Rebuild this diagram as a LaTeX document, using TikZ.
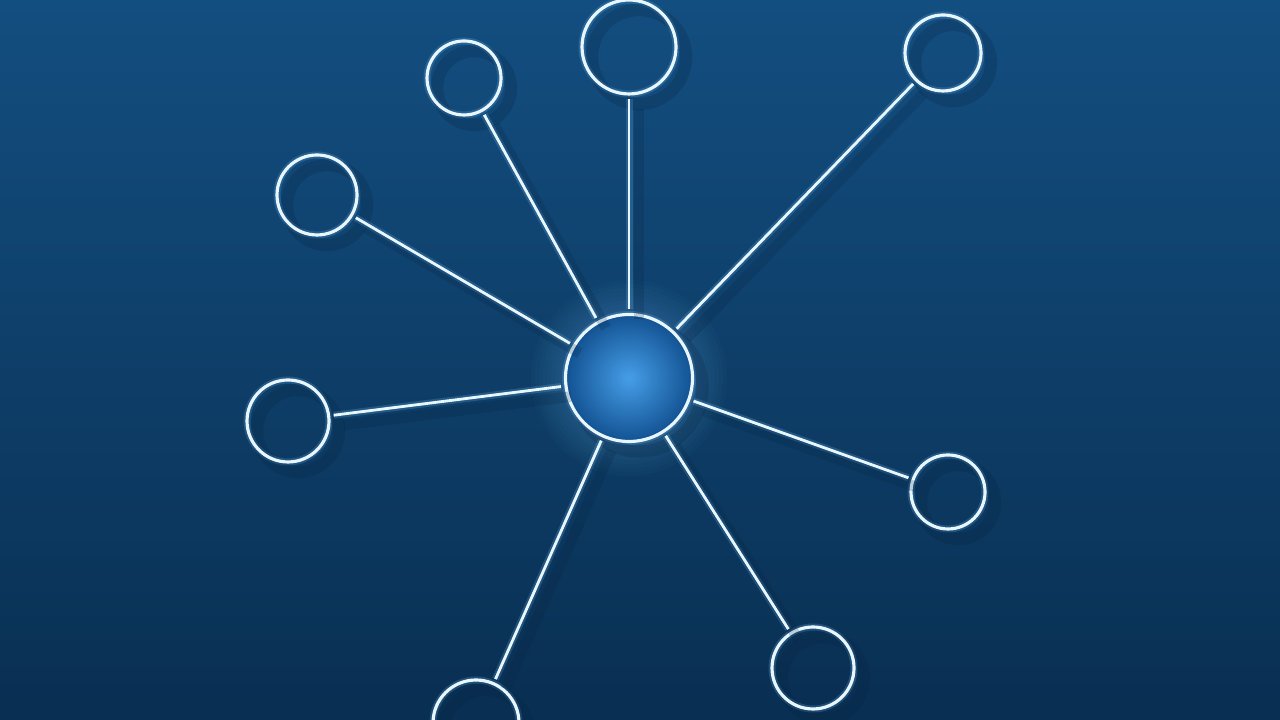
\documentclass[tikz,border=0pt]{standalone}
\usetikzlibrary{calc,positioning,shadows}

\definecolor{bgtop}{RGB}{19,78,128}
\definecolor{bgbot}{RGB}{9,47,82}
\definecolor{ringwhite}{RGB}{232,247,255}
\definecolor{glowblue}{RGB}{120,200,255}
\definecolor{shadowblue}{RGB}{6,34,62}
\definecolor{hubinner}{RGB}{70,158,232}
\definecolor{hubouter}{RGB}{18,82,146}

\begin{document}
\begin{tikzpicture}[
    every node/.style={circle,draw=ringwhite,line width=0.9pt,inner sep=0pt,outer sep=0.5mm,
        preaction={draw=glowblue,line width=2pt,opacity=0.2},
        general shadow={shadow xshift=1mm,shadow yshift=-1mm,draw=shadowblue,line width=3.5pt,opacity=0.22,fill=none}},
    hub/.style={minimum size=12.7mm,inner color=hubinner,outer color=hubouter},
    link/.style={draw=ringwhite,line width=0.8pt,
        preaction={draw=glowblue,line width=2pt,opacity=0.2},
        general shadow={shadow xshift=1mm,shadow yshift=-1mm,draw=shadowblue,line width=3pt,opacity=0.2}}
  ]
    % background
    \fill[top color=bgtop,bottom color=bgbot] (0,0) rectangle (12.8,7.2);
    \useasboundingbox (0,0) rectangle (12.8,7.2);

    % soft glow behind the hub
    \foreach \r in {0.66,0.70,...,1.0}
        \fill[glowblue,opacity=0.025] (6.29,3.42) circle (\r);

    \node[hub] (hub) at (6.29,3.42) {};

    \node[minimum size=7.4mm] (topleft) at (4.64,6.42) {};
    \node[minimum size=9.4mm] (top) at (6.29,6.73) {};
    \node[minimum size=7.6mm] (topright) at (9.43,6.67) {};
    \node[minimum size=8.0mm] (upleft) at (3.17,5.25) {};
    \node[minimum size=8.2mm] (left) at (2.88,2.99) {};
    \node[minimum size=7.4mm] (right) at (9.48,2.28) {};
    \node[minimum size=8.2mm] (downright) at (8.13,0.52) {};
    \node[minimum size=8.6mm] (down) at (4.76,-0.03) {};

    \foreach \n in {topleft,top,topright,upleft,left,right,downright,down}
        \draw[link] (hub) -- (\n);

\end{tikzpicture}
\end{document}
